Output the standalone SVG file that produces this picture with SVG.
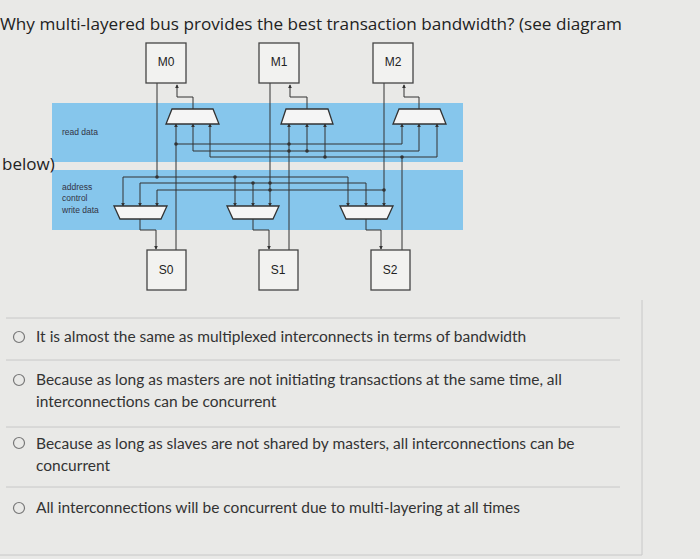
<svg xmlns="http://www.w3.org/2000/svg" width="700" height="559" viewBox="0 0 700 559">
<defs>
<marker id="ah" viewBox="0 0 6 6" refX="5" refY="3" markerWidth="4" markerHeight="4" orient="auto"><path d="M0,0 L6,3 L0,6 z" fill="#333"/></marker>
<style>
.box{fill:#f2f2f0;stroke:#444;stroke-width:1.3}
.mux{fill:#f5f5f5;stroke:#333;stroke-width:1.3}
.w{fill:none;stroke:#333;stroke-width:1}
.a{fill:none;stroke:#333;stroke-width:1;marker-end:url(#ah)}
.lbl{font-family:"Liberation Sans",Arial,sans-serif;font-size:12px;fill:#222}
.sm{font-family:"Liberation Sans",Arial,sans-serif;font-size:8.5px;fill:#334}
.q{font-family:Lato,"Open Sans",sans-serif;font-size:15.5px;fill:#333}
.dot{fill:#333}
</style>
</defs>
<rect width="700" height="559" fill="#e9e9e7"/>
<text x="0" y="30" font-family="'Open Sans',sans-serif" font-size="17" textLength="622" lengthAdjust="spacingAndGlyphs" fill="#222">Why multi-layered bus provides the best transaction bandwidth? (see diagram</text>
<rect x="52" y="103" width="411" height="59" fill="#86c6ec"/>
<rect x="52" y="170" width="411" height="60" fill="#86c6ec"/>
<text x="2" y="170" font-family="'Open Sans',sans-serif" font-size="17" fill="#222">below)</text>
<text x="62" y="135" class="sm">read data</text>
<text x="62" y="190" class="sm">address</text>
<text x="62" y="201" class="sm">control</text>
<text x="62" y="213" class="sm">write data</text>
<g id="connectors">
<path class="a" d="M193,109 V97 H177 V85"/>
<path class="a" d="M307,109 V97 H290 V85"/>
<path class="a" d="M419,109 V97 H404 V85"/>
<path class="a" d="M176,250 V124"/>
<path class="a" d="M289,250 V124"/>
<path class="w" d="M402,250 V157"/>
<path class="w" d="M176,144 H402"/><path class="a" d="M402,144 V124"/>
<path class="a" d="M193,151 V124"/><path class="w" d="M193,151 H419"/><path class="a" d="M307,151 V124"/><path class="a" d="M419,151 V124"/>
<path class="a" d="M210,157 V124"/><path class="w" d="M210,157 H437"/><path class="a" d="M325,157 V124"/><path class="a" d="M437,157 V124"/>
<path class="w" d="M157,83 V177"/><path class="w" d="M270,83 V190"/><path class="w" d="M384,83 V190"/>
<path class="w" d="M123,177 H348"/><path class="a" d="M123,177 V206"/><path class="a" d="M235,177 V206"/><path class="a" d="M348,177 V206"/>
<path class="w" d="M140,183 H366"/><path class="a" d="M140,183 V206"/><path class="a" d="M253,183 V206"/><path class="a" d="M366,183 V206"/>
<path class="w" d="M157,190 H384"/><path class="a" d="M157,190 V206"/><path class="a" d="M270,190 V206"/><path class="a" d="M384,190 V206"/>
<path class="a" d="M140,219 V230 H156 V249"/>
<path class="a" d="M253,219 V230 H269 V249"/>
<path class="a" d="M366,219 V230 H381 V249"/>
<circle class="dot" cx="176" cy="144" r="1.8"/><circle class="dot" cx="289" cy="144" r="1.8"/>
<circle class="dot" cx="289" cy="151" r="1.8"/><circle class="dot" cx="307" cy="151" r="1.8"/>
<circle class="dot" cx="402" cy="157" r="1.8"/><circle class="dot" cx="325" cy="157" r="1.8"/>
<circle class="dot" cx="157" cy="177" r="1.8"/><circle class="dot" cx="235" cy="177" r="1.8"/>
<circle class="dot" cx="253" cy="183" r="1.8"/><circle class="dot" cx="270" cy="183" r="1.8"/>
<circle class="dot" cx="270" cy="190" r="1.8"/><circle class="dot" cx="384" cy="190" r="1.8"/>
</g>
<g id="mux-r0"><path class="mux" d="M172,109 H213 L219,124 H166 z"/></g>
<g id="mux-r1"><path class="mux" d="M286,109 H328 L333,124 H281 z"/></g>
<g id="mux-r2"><path class="mux" d="M399,109 H440 L446,124 H393 z"/></g>
<g id="mux-w0"><path class="mux" d="M114,206 H167 L161,219 H120 z"/></g>
<g id="mux-w1"><path class="mux" d="M227,206 H279 L273,219 H233 z"/></g>
<g id="mux-w2"><path class="mux" d="M340,206 H393 L387,219 H346 z"/></g>
<g id="M0"><rect class="box" x="146" y="43" width="40" height="40"/><text x="166" y="66" class="lbl" text-anchor="middle">M0</text></g>
<g id="M1"><rect class="box" x="259" y="43" width="40" height="40"/><text x="279" y="66" class="lbl" text-anchor="middle">M1</text></g>
<g id="M2"><rect class="box" x="373" y="43" width="40" height="40"/><text x="393" y="66" class="lbl" text-anchor="middle">M2</text></g>
<g id="S0"><rect class="box" x="147" y="250" width="39" height="40"/><text x="166" y="274" class="lbl" text-anchor="middle">S0</text></g>
<g id="S1"><rect class="box" x="259" y="250" width="39" height="40"/><text x="278" y="274" class="lbl" text-anchor="middle">S1</text></g>
<g id="S2"><rect class="box" x="371" y="250" width="39" height="40"/><text x="390" y="274" class="lbl" text-anchor="middle">S2</text></g>
<g stroke="#c8c8c8" stroke-width="1">
<line x1="6" y1="318" x2="620" y2="318"/><line x1="6" y1="360" x2="620" y2="360"/><line x1="6" y1="427" x2="620" y2="427"/><line x1="6" y1="487" x2="620" y2="487"/>
<line x1="642" y1="300" x2="642" y2="555"/><line x1="0" y1="555" x2="642" y2="555"/>
</g>
<g fill="none" stroke="#777" stroke-width="1.2">
<circle cx="19" cy="337" r="5.5"/><circle cx="19" cy="380" r="5.5"/><circle cx="19" cy="443" r="5.5"/><circle cx="19" cy="508" r="5.5"/>
</g>
<text x="36" y="342" class="q">It is almost the same as multiplexed interconnects in terms of bandwidth</text>
<text x="36" y="385" class="q">Because as long as masters are not initiating transactions at the same time, all</text>
<text x="36" y="407" class="q">interconnections can be concurrent</text>
<text x="36" y="449" class="q">Because as long as slaves are not shared by masters, all interconnections can be</text>
<text x="36" y="471" class="q">concurrent</text>
<text x="36" y="513" class="q">All interconnections will be concurrent due to multi-layering at all times</text>
</svg>
